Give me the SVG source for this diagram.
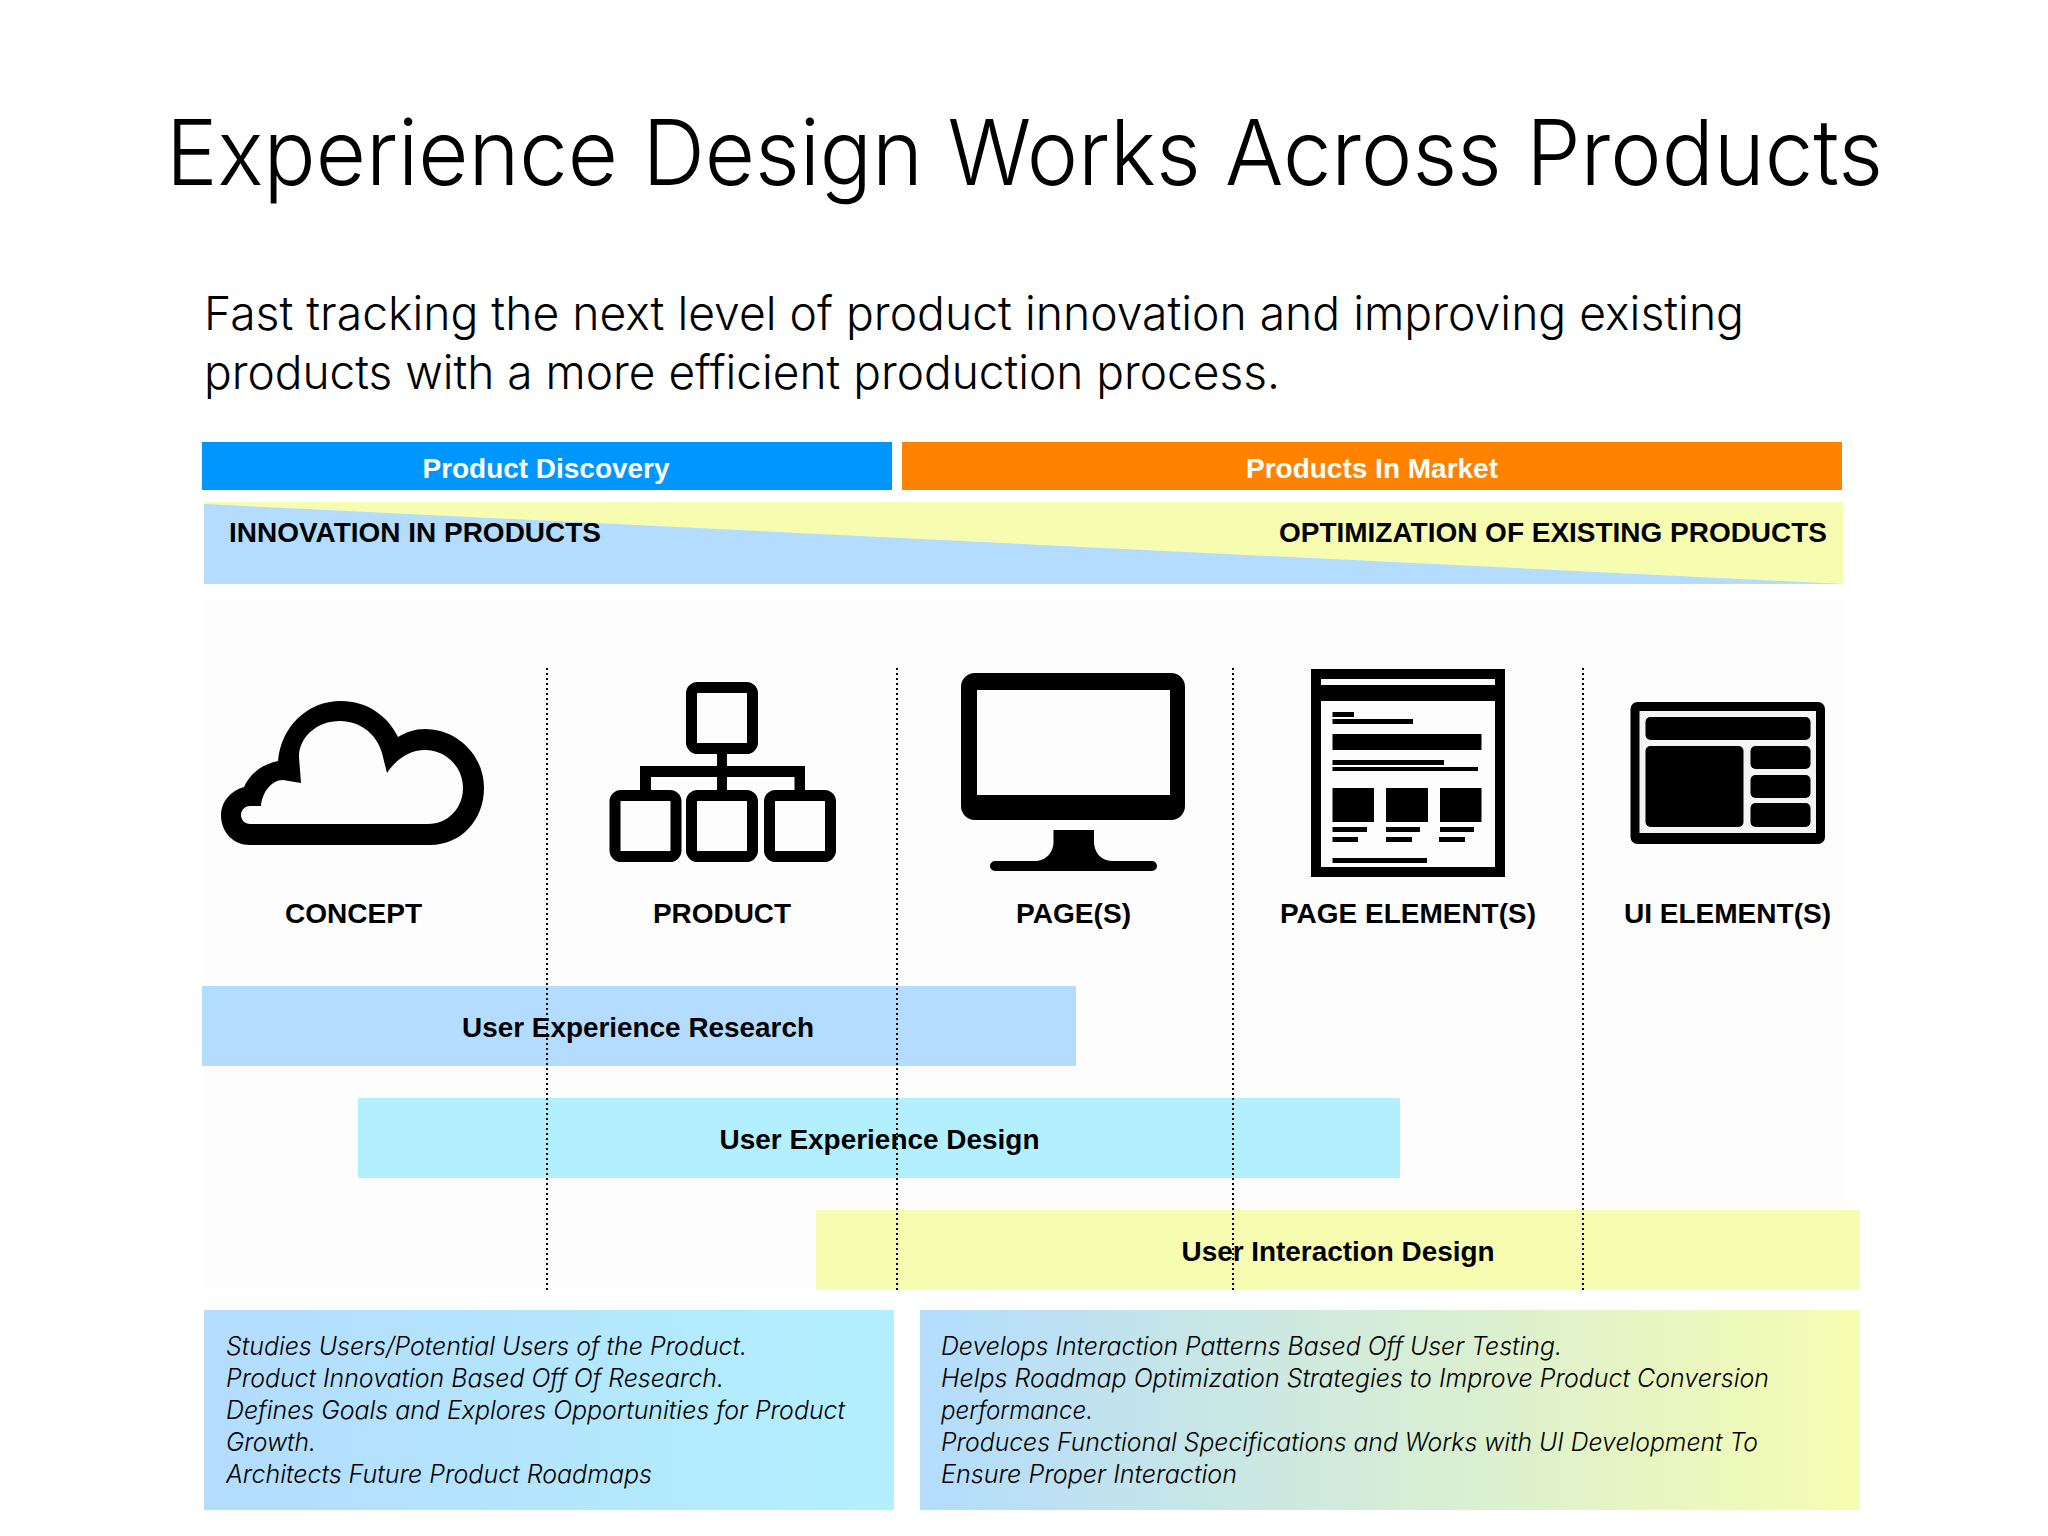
<svg xmlns="http://www.w3.org/2000/svg" width="2048" height="1536" viewBox="0 0 2048 1536">
<style>
text{font-family:"Liberation Sans",Arial,sans-serif;fill:#000}
text.light{font-family:Inter,"Liberation Sans",sans-serif;font-weight:300}
.b{font-weight:700;font-size:28px}
.c{text-anchor:middle}
.w{fill:#fff}
text.it{font-family:Inter,"Liberation Sans",sans-serif;font-weight:300;font-style:italic;font-size:25.500px}
.o{fill:none;stroke:#000;stroke-width:11;stroke-linejoin:round}
.dot{stroke:#000;stroke-width:2;stroke-dasharray:2 3;fill:none}
</style>
<defs>
<linearGradient id="g1"><stop offset="0" stop-color="#b3dcfe"/><stop offset="1" stop-color="#b3f0ff"/></linearGradient>
<linearGradient id="g2"><stop offset="0" stop-color="#b3dcfe"/><stop offset="1" stop-color="#f6fdb1"/></linearGradient>
</defs>
<rect width="2048" height="1536" fill="#fff"/>
<rect x="204" y="600" width="1640" height="690" fill="#fefdfe"/>
<text id="title" class="light" x="166" y="185" font-size="91" textLength="1717" lengthAdjust="spacingAndGlyphs">Experience Design Works Across Products</text>
<g id="subtitle">
<text class="light" font-size="47" x="204" y="330" textLength="1540" lengthAdjust="spacingAndGlyphs">Fast tracking the next level of product innovation and improving existing</text>
<text class="light" font-size="47" x="204" y="389" textLength="1076" lengthAdjust="spacingAndGlyphs">products with a more efficient production process.</text>
</g>
<g id="product-discovery"><rect x="202" y="442" width="690" height="48" fill="#0096ff"/><text class="b c w" x="546" y="478" textLength="247" lengthAdjust="spacingAndGlyphs">Product Discovery</text></g>
<g id="products-in-market"><rect x="902" y="442" width="940" height="48" fill="#ff8300"/><text class="b c w" x="1372" y="478" textLength="252" lengthAdjust="spacingAndGlyphs">Products In Market</text></g>
<g id="innovation-band">
<rect x="204" y="502" width="1639" height="82" fill="#f6fdb1"/>
<polygon points="204,504 1843,584 204,584" fill="#b3dcfe"/>
<text class="b" x="229" y="542" textLength="372" lengthAdjust="spacingAndGlyphs">INNOVATION IN PRODUCTS</text>
<text class="b" x="1279" y="542" textLength="548" lengthAdjust="spacingAndGlyphs">OPTIMIZATION OF EXISTING PRODUCTS</text>
</g>
<g id="concept">
<path transform="translate(-1 0)" fill-rule="evenodd" d="M251 845H431C462 845 485 820 485 788C485 755 458 729 426 729C416 729 407 732 399 737C389 716 368 701 342 701C308 701 282 727 279 761C264 764 251 773 245 787C231 791 222 802 222 815C222 832 234 845 251 845ZM251 824C246 824 242 820 242 815C242 810 246 806 251 806H262C263 793 272 780 284 780L302 783L300 757C300 737 318 721 341 721C362 721 378 735 383 753L388 773C396 761 409 750 426 750C447 750 464 767 464 788C464 808 449 824 429 824Z"/>
<text class="b c" x="353.500" y="923" textLength="137" lengthAdjust="spacingAndGlyphs">CONCEPT</text>
</g>
<g id="product">
<g transform="translate(-1 0)">
<rect class="o" x="692.500" y="687.500" width="61" height="61" rx="6"/>
<rect class="o" x="616" y="795.500" width="61" height="61" rx="6"/>
<rect class="o" x="692.500" y="795.500" width="61" height="61" rx="6"/>
<rect class="o" x="770.500" y="795.500" width="61" height="61" rx="6"/>
<path d="M718 754H728V766H806V790H795.500V777H728V790H718V777H652V790H641V766H718Z"/>
</g>
<text class="b c" x="722" y="923" textLength="138" lengthAdjust="spacingAndGlyphs">PRODUCT</text>
</g>
<g id="pages">
<path fill-rule="evenodd" d="M975 673H1171A14 14 0 0 1 1185 687V806A14 14 0 0 1 1171 820H975A14 14 0 0 1 961 806V687A14 14 0 0 1 975 673ZM977 690V795H1170V690Z"/>
<path d="M1053.500 830H1094V842C1094 851 1100 861 1112 861H1152A5 5 0 0 1 1152 871H995A5 5 0 0 1 995 861H1035C1047 861 1053.500 851 1053.500 842Z"/>
<text class="b c" x="1073.500" y="923" textLength="115" lengthAdjust="spacingAndGlyphs">PAGE(S)</text>
</g>
<g id="page-elements">
<g transform="translate(-1 0)">
<path fill-rule="evenodd" d="M1312 669H1506V877H1312ZM1322 679V685H1496V679ZM1322 701V867H1496V701Z"/>
<path d="M1333.500 712H1355V717H1333.500ZM1333.500 719H1414V724H1333.500ZM1333.500 734H1482.500V750H1333.500ZM1333.500 760H1445V765H1333.500ZM1333.500 767H1479V771H1333.500ZM1333.500 788H1375V822H1333.500ZM1387 788H1429V822H1387ZM1441 788H1482.500V822H1441ZM1333.500 827H1368V832H1333.500ZM1387 827H1421V832H1387ZM1441 827H1475V832H1441ZM1333.500 837H1359V842H1333.500ZM1387 837H1413V842H1387ZM1440 837H1466V842H1440ZM1333.500 858H1428V863H1333.500Z"/>
</g>
<text class="b c" x="1408" y="923" textLength="256" lengthAdjust="spacingAndGlyphs">PAGE ELEMENT(S)</text>
</g>
<g id="ui-elements">
<g transform="translate(-1.500 0)">
<rect x="1632" y="702" width="194.500" height="142" rx="7"/>
<rect x="1641" y="711" width="176.500" height="122" fill="#f4f4f4"/>
<rect x="1647" y="717" width="165" height="23" rx="5"/>
<rect x="1647" y="746" width="98" height="81" rx="5"/>
<rect x="1752" y="746" width="60" height="23" rx="5"/>
<rect x="1752" y="775" width="60" height="23" rx="5"/>
<rect x="1752" y="803" width="60" height="24" rx="5"/>
</g>
<text class="b c" x="1727.500" y="923" textLength="207" lengthAdjust="spacingAndGlyphs">UI ELEMENT(S)</text>
</g>
<g id="ux-research"><rect x="202" y="986" width="874" height="80" fill="#b3dcfe"/><text class="b c" x="638" y="1037" textLength="352" lengthAdjust="spacingAndGlyphs">User Experience Research</text></g>
<g id="ux-design"><rect x="358" y="1098" width="1042" height="80" fill="#b3f0ff"/><text class="b c" x="879.500" y="1149" textLength="320" lengthAdjust="spacingAndGlyphs">User Experience Design</text></g>
<g id="ui-design"><rect x="816" y="1210" width="1044" height="80" fill="#f6fdb1"/><text class="b c" x="1338" y="1261" textLength="313" lengthAdjust="spacingAndGlyphs">User Interaction Design</text></g>
<g id="connectors">
<path class="dot" d="M547 668V1290M897 668V1290M1233 668V1290M1583 668V1290"/>
</g>
<g id="left-note">
<rect x="204" y="1310" width="690" height="200" fill="url(#g1)"/>
<text class="it" x="226" y="1355" textLength="521" lengthAdjust="spacingAndGlyphs">Studies Users/Potential Users of the Product.</text>
<text class="it" x="226" y="1387" textLength="498" lengthAdjust="spacingAndGlyphs">Product Innovation Based Off Of Research.</text>
<text class="it" x="226" y="1419" textLength="619" lengthAdjust="spacingAndGlyphs">Defines Goals and Explores Opportunities for Product</text>
<text class="it" x="226" y="1451" textLength="90" lengthAdjust="spacingAndGlyphs">Growth.</text>
<text class="it" x="226" y="1483" textLength="426" lengthAdjust="spacingAndGlyphs">Architects Future Product Roadmaps</text>
</g>
<g id="right-note">
<rect x="920" y="1310" width="940" height="200" fill="url(#g2)"/>
<text class="it" x="941" y="1355" textLength="621" lengthAdjust="spacingAndGlyphs">Develops Interaction Patterns Based Off User Testing.</text>
<text class="it" x="941" y="1387" textLength="828" lengthAdjust="spacingAndGlyphs">Helps Roadmap Optimization Strategies to Improve Product Conversion</text>
<text class="it" x="941" y="1419" textLength="152" lengthAdjust="spacingAndGlyphs">performance.</text>
<text class="it" x="941" y="1451" textLength="817" lengthAdjust="spacingAndGlyphs">Produces Functional Specifications and Works with UI Development To</text>
<text class="it" x="941" y="1483" textLength="296" lengthAdjust="spacingAndGlyphs">Ensure Proper Interaction</text>
</g>
</svg>
